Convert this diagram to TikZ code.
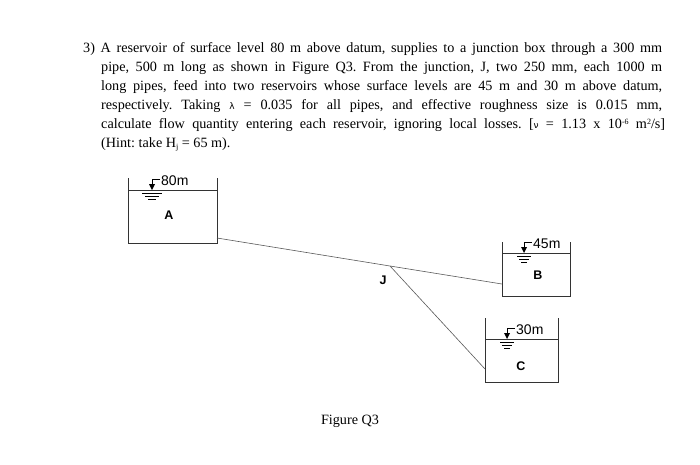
\documentclass[tikz,border=0pt]{standalone}
\usepackage{fontspec}
\setmainfont{Liberation Serif}
\setsansfont{Liberation Sans}
\newfontfamily\symf{DejaVu Sans}
\frenchspacing
\newcommand{\mysup}[1]{\raisebox{0.6ex}{\fontsize{8}{9}\selectfont #1}}
\newcommand{\mysub}[1]{\raisebox{-0.4ex}{\fontsize{8}{9}\selectfont #1}}
\begin{document}
\begin{tikzpicture}[x=1pt,y=-1pt,
  tl/.style={anchor=base west,inner sep=0,font=\fontsize{14.2}{16}\selectfont},
  lab/.style={font=\sffamily\fontsize{14}{16}\selectfont,inner sep=0},
  bl/.style={font=\sffamily\bfseries\fontsize{12.5}{14}\selectfont,inner sep=0},
  tank/.style={line width=0.8pt,draw=black!80},
  pipe/.style={line width=0.6pt,draw=black!65}]
\useasboundingbox (0,0) rectangle (700,464);
\node[tl] (l1) at (83,52) {\makebox[579pt][s]{3) A reservoir of surface level 80 m above datum, supplies to a junction box through a 300 mm}};
\node[tl] (l2) at (101,71) {\makebox[561pt][s]{pipe, 500 m long as shown in Figure Q3. From the junction, J, two 250 mm, each 1000 m}};
\node[tl] (l3) at (101,90) {\makebox[561pt][s]{long pipes, feed into two reservoirs whose surface levels are 45 m and 30 m above datum,}};
\node[tl] (l4) at (101,109) {\makebox[561pt][s]{respectively. Taking {\symf\fontsize{9}{10}\selectfont λ} = 0.035 for all pipes, and effective roughness size is 0.015 mm,}};
\node[tl] (l5) at (101,128) {\makebox[564pt][s]{calculate flow quantity entering each reservoir, ignoring local losses. [{\symf\fontsize{9}{10}\selectfont ν} = 1.13 x 10\mysup{-6} m\mysup{2}/s]}};
\node[tl] (l6) at (101,147) {(Hint: take H\mysub{j} = 65 m).};
% tanks
\draw[tank] (128,178) -- (128,243) -- (217,243) -- (217,178);
\draw[tank] (128,190) -- (217,190);
\draw[tank] (502,242) -- (502,296) -- (570,296) -- (570,242);
\draw[tank] (502,253) -- (570,253);
\draw[tank] (485,318) -- (485,382) -- (558,382) -- (558,318);
\draw[tank] (485,339) -- (558,339);
% water symbols
\foreach \x/\y/\w in {152/190/1, 524/253/0.7, 507/339/0.7}{
  \fill (\x-3,\y-6) -- (\x+3,\y-6) -- (\x,\y) -- cycle;
  \draw[line width=0.6pt] (\x,\y-6) -- (\x,\y-11) -- (\x+8,\y-11);
  \draw[line width=0.6pt] (\x-10*\w,\y+3) -- (\x+10*\w,\y+3);
  \draw[line width=0.6pt] (\x-7*\w,\y+6) -- (\x+7*\w,\y+6);
  \draw[line width=0.6pt] (\x-4*\w,\y+9) -- (\x+4*\w,\y+9);
}
\node[lab,anchor=west] (t80) at (161,181) {80m};
\node[lab,anchor=west] (t45) at (533,244) {45m};
\node[lab,anchor=west] (t30) at (516,330) {30m};
\node[bl] (A) at (169,215) {A};
\node[bl] (B) at (538,275) {B};
\node[bl] (C) at (521,366) {C};
\node[bl] (Jl) at (383,280) {J};
\coordinate (pa) at (217,238);
\coordinate (J) at (390,266);
\coordinate (pb) at (502,284);
\coordinate (pc) at (485,369);
\draw[pipe] (pa) -- (J) -- (pb);
\draw[pipe] (J) -- (pc);
\node[tl,anchor=base] (fig) at (350,424) {Figure Q3};
\end{tikzpicture}
\end{document}
